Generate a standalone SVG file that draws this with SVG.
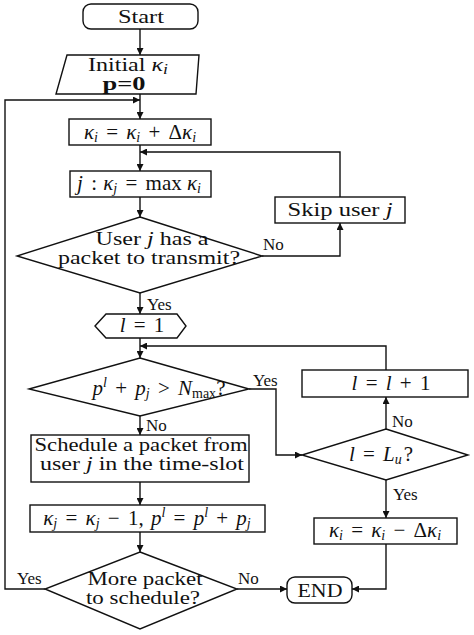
<svg xmlns="http://www.w3.org/2000/svg" width="474" height="635" viewBox="0 0 474 635">
<style>
.n{fill:#fff;stroke:#111;stroke-width:1.4}
.c{fill:none;stroke:#111;stroke-width:1.4}
text{font-family:"Liberation Serif","DejaVu Serif",serif;font-size:19px;fill:#111}
.lb{font-size:17px}
.mt{font-size:21px}
.m{font-style:italic}
.s{font-size:14px}
.b{font-weight:bold}
</style>
<defs>
<marker id="a" viewBox="0 0 10 10" refX="10" refY="5" markerWidth="9" markerHeight="7" markerUnits="userSpaceOnUse" orient="auto">
<path d="M0,0L10,5L0,10z" fill="#111"/>
</marker>
</defs>
<g id="connectors">
<path class="c" d="M140,29V55" marker-end="url(#a)"/>
<path class="c" d="M140,94V119" marker-end="url(#a)"/>
<path class="c" d="M45,589H5V100H140" marker-end="url(#a)"/>
<path class="c" d="M140,145V171" marker-end="url(#a)"/>
<path class="c" d="M340,197V152H140" marker-end="url(#a)"/>
<path class="c" d="M140,197V217" marker-end="url(#a)"/>
<path class="c" d="M262,256H340V223" marker-end="url(#a)"/>
<path class="c" d="M140,293V314" marker-end="url(#a)"/>
<path class="c" d="M140,338V358" marker-end="url(#a)"/>
<path class="c" d="M386,370V346H140" marker-end="url(#a)"/>
<path class="c" d="M249,389H276V455H302" marker-end="url(#a)"/>
<path class="c" d="M140,416V435" marker-end="url(#a)"/>
<path class="c" d="M140,482V505" marker-end="url(#a)"/>
<path class="c" d="M140,532V552" marker-end="url(#a)"/>
<path class="c" d="M237,589H287" marker-end="url(#a)"/>
<path class="c" d="M386,429V397" marker-end="url(#a)"/>
<path class="c" d="M386,480V518" marker-end="url(#a)"/>
<path class="c" d="M386,544V589H352" marker-end="url(#a)"/>
<text class="lb" x="263" y="250">No</text>
<text class="lb" x="147" y="310">Yes</text>
<text class="lb" x="253" y="386">Yes</text>
<text class="lb" x="146" y="431">No</text>
<text class="lb" x="392" y="427">No</text>
<text class="lb" x="393" y="500">Yes</text>
<text class="lb" x="17" y="584">Yes</text>
<text class="lb" x="238" y="584">No</text>
</g>
<g id="start">
<rect class="n" x="83" y="4" width="115" height="25" rx="8"/>
<text x="141" y="23" text-anchor="middle" textLength="46" lengthAdjust="spacingAndGlyphs">Start</text>
</g>
<g id="init">
<path class="n" d="M67,55H199L196,94H56Z"/>
<text x="88" y="71" textLength="80" lengthAdjust="spacingAndGlyphs">Initial <tspan class="m">κ</tspan><tspan class="m s" dy="3">i</tspan></text>
<text class="b" x="124" y="90" text-anchor="middle" textLength="43" lengthAdjust="spacingAndGlyphs">p=0</text>
</g>
<g id="inc">
<rect class="n" x="69" y="119" width="142" height="26"/>
<text class="mt" x="140" y="139" text-anchor="middle"><tspan class="m">κ</tspan><tspan class="m s" dy="3">i</tspan><tspan dy="-3" dx="3"> = </tspan><tspan class="m" dx="3">κ</tspan><tspan class="m s" dy="3">i</tspan><tspan dy="-3" dx="3"> + </tspan><tspan dx="3">Δ</tspan><tspan class="m">κ</tspan><tspan class="m s" dy="3">i</tspan></text>
</g>
<g id="select">
<rect class="n" x="70" y="171" width="141" height="26"/>
<text class="mt" x="139" y="190" text-anchor="middle"><tspan class="m">j</tspan><tspan dx="3"> : </tspan><tspan class="m" dx="1">κ</tspan><tspan class="m s" dy="3">j</tspan><tspan dy="-3" dx="3"> = </tspan><tspan dx="3">max </tspan><tspan class="m">κ</tspan><tspan class="m s" dy="3">i</tspan></text>
</g>
<g id="skip">
<rect class="n" x="275" y="197" width="130" height="26"/>
<text x="340" y="216" text-anchor="middle" textLength="105" lengthAdjust="spacingAndGlyphs">Skip user <tspan class="m">j</tspan></text>
</g>
<g id="hasPacket">
<path class="n" d="M140,217L262,256L140,293L17,256Z"/>
<text x="152" y="245" text-anchor="middle" textLength="113" lengthAdjust="spacingAndGlyphs">User <tspan class="m">j</tspan> has a</text>
<text x="149" y="264" text-anchor="middle" textLength="182" lengthAdjust="spacingAndGlyphs">packet to transmit?</text>
</g>
<g id="l1">
<path class="n" d="M95,326L106,314H177L186,326L177,338H106Z"/>
<text class="mt" x="142" y="332" text-anchor="middle"><tspan class="m">l</tspan><tspan dx="3"> = </tspan><tspan dx="3">1</tspan></text>
</g>
<g id="cap">
<path class="n" d="M140,358L249,389L140,416L29,389Z"/>
<text class="mt" x="159" y="395" text-anchor="middle"><tspan class="m">p</tspan><tspan class="m s" dy="-8">l</tspan><tspan dy="8" dx="3"> + </tspan><tspan class="m" dx="3">p</tspan><tspan class="m s" dy="3">j</tspan><tspan dy="-3" dx="3"> &gt; </tspan><tspan class="m" dx="3">N</tspan><tspan class="s" dy="3">max</tspan><tspan dy="-3">?</tspan></text>
</g>
<g id="schedule">
<rect class="n" x="31" y="435" width="218" height="47"/>
<text x="141" y="451" text-anchor="middle" textLength="213" lengthAdjust="spacingAndGlyphs">Schedule a packet from</text>
<text x="142" y="470" text-anchor="middle" textLength="204" lengthAdjust="spacingAndGlyphs">user <tspan class="m">j</tspan> in the time-slot</text>
</g>
<g id="update">
<rect class="n" x="30" y="505" width="235" height="27"/>
<text class="mt" x="147" y="525" text-anchor="middle"><tspan class="m">κ</tspan><tspan class="m s" dy="3">j</tspan><tspan dy="-3" dx="3"> = </tspan><tspan class="m" dx="3">κ</tspan><tspan class="m s" dy="3">j</tspan><tspan dy="-3" dx="3"> − </tspan><tspan dx="3">1, </tspan><tspan class="m" dx="2">p</tspan><tspan class="m s" dy="-8">l</tspan><tspan dy="8" dx="3"> = </tspan><tspan class="m" dx="3">p</tspan><tspan class="m s" dy="-8">l</tspan><tspan dy="8" dx="3"> + </tspan><tspan class="m" dx="3">p</tspan><tspan class="m s" dy="3">j</tspan></text>
</g>
<g id="more">
<path class="n" d="M140,552L237,589L140,629L45,589Z"/>
<text x="145" y="585" text-anchor="middle" textLength="115" lengthAdjust="spacingAndGlyphs">More packet</text>
<text x="143" y="604" text-anchor="middle" textLength="114" lengthAdjust="spacingAndGlyphs">to schedule?</text>
</g>
<g id="linc">
<rect class="n" x="302" y="370" width="166" height="27"/>
<text class="mt" x="391" y="390" text-anchor="middle"><tspan class="m">l</tspan><tspan dx="3"> = </tspan><tspan class="m" dx="3">l</tspan><tspan dx="3"> + </tspan><tspan dx="3">1</tspan></text>
</g>
<g id="lu">
<path class="n" d="M386,429L468,455L386,480L302,455Z"/>
<text class="mt" x="381" y="461" text-anchor="middle"><tspan class="m">l</tspan><tspan dx="3"> = </tspan><tspan class="m" dx="3">L</tspan><tspan class="m s" dy="3">u</tspan><tspan dy="-3" dx="2">?</tspan></text>
</g>
<g id="dec">
<rect class="n" x="314" y="518" width="143" height="26"/>
<text class="mt" x="385" y="537" text-anchor="middle"><tspan class="m">κ</tspan><tspan class="m s" dy="3">i</tspan><tspan dy="-3" dx="3"> = </tspan><tspan class="m" dx="3">κ</tspan><tspan class="m s" dy="3">i</tspan><tspan dy="-3" dx="3"> − </tspan><tspan dx="3">Δ</tspan><tspan class="m">κ</tspan><tspan class="m s" dy="3">i</tspan></text>
</g>
<g id="end">
<rect class="n" x="287" y="577" width="65" height="26" rx="8"/>
<text x="320" y="597" text-anchor="middle" textLength="45" lengthAdjust="spacingAndGlyphs">END</text>
</g>
</svg>
